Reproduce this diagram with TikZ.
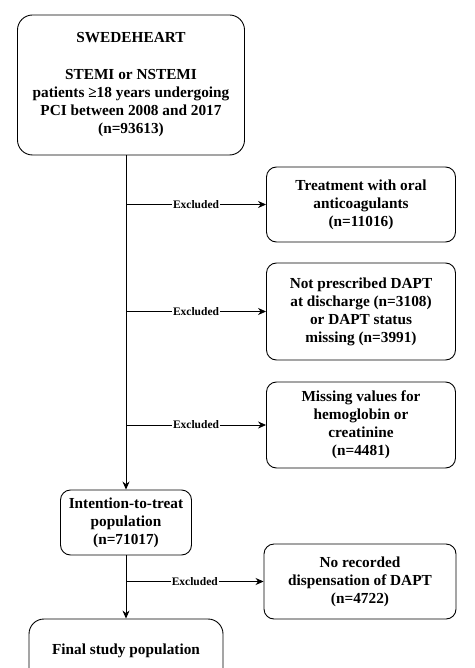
\documentclass[tikz,border=0pt]{standalone}
\usepackage{fontspec}
\setmainfont{Liberation Serif}
\usetikzlibrary{arrows.meta}

\begin{document}
\begin{tikzpicture}[x=1pt, y=-1pt,
    box/.style={draw, line width=0.9pt, rounded corners=10pt, align=center,
      inner sep=2pt, font=\fontsize{15.3}{18}\selectfont\bfseries},
    excl/.style={fill=white, inner sep=1pt, font=\fontsize{11.5}{13}\selectfont\bfseries},
    flow/.style={line width=0.8pt, -{Stealth[length=8pt, width=7pt]}}]
  % Page frame (the bottom box runs off the page)
  \clip (0,0) rectangle (474,668);

  % Main column
  \node[box, minimum width=227pt, minimum height=140pt, rounded corners=15pt] (src) at (131,85)
    {SWEDEHEART\\[19pt] STEMI or NSTEMI\\ patients ≥18 years undergoing\\ PCI between 2008 and 2017\\ (n=93613)};
  \node[box, minimum width=131pt, minimum height=65pt] (itt) at (126,522.5)
    {Intention-to-treat\\ population\\ (n=71017)};
  \node[box, minimum width=194pt, minimum height=64pt, rounded corners=15pt] (fin) at (126,651)
    {Final study population};

  % Exclusion boxes
  \node[box, minimum width=189pt, minimum height=75pt] (ex1) at (361,204.5)
    {Treatment with oral\\ anticoagulants\\ (n=11016)};
  \node[box, minimum width=189pt, minimum height=97pt] (ex2) at (361,311.5)
    {Not prescribed DAPT\\ at discharge (n=3108)\\ or DAPT status\\ missing (n=3991)};
  \node[box, minimum width=189pt, minimum height=86pt] (ex3) at (361,425)
    {Missing values for\\ hemoglobin or\\ creatinine\\ (n=4481)};
  \node[box, minimum width=192pt, minimum height=75pt] (ex4) at (360,581.5)
    {No recorded\\ dispensation of DAPT\\ (n=4722)};

  % Arrows
  \draw[flow] (itt.north |- src.south) -- (itt.north);
  \draw[flow] (itt.south) -- (itt.south -| fin.north) -- (fin.north);
  \draw[flow] (itt.north |- ex1.west) -- node[excl] {Excluded} (ex1.west);
  \draw[flow] (itt.north |- ex2.west) -- node[excl] {Excluded} (ex2.west);
  \draw[flow] (itt.north |- ex3.west) -- node[excl] {Excluded} (ex3.west);
  \draw[flow] (itt.south |- ex4.west) -- node[excl] {Excluded} (ex4.west);
\end{tikzpicture}
\end{document}
